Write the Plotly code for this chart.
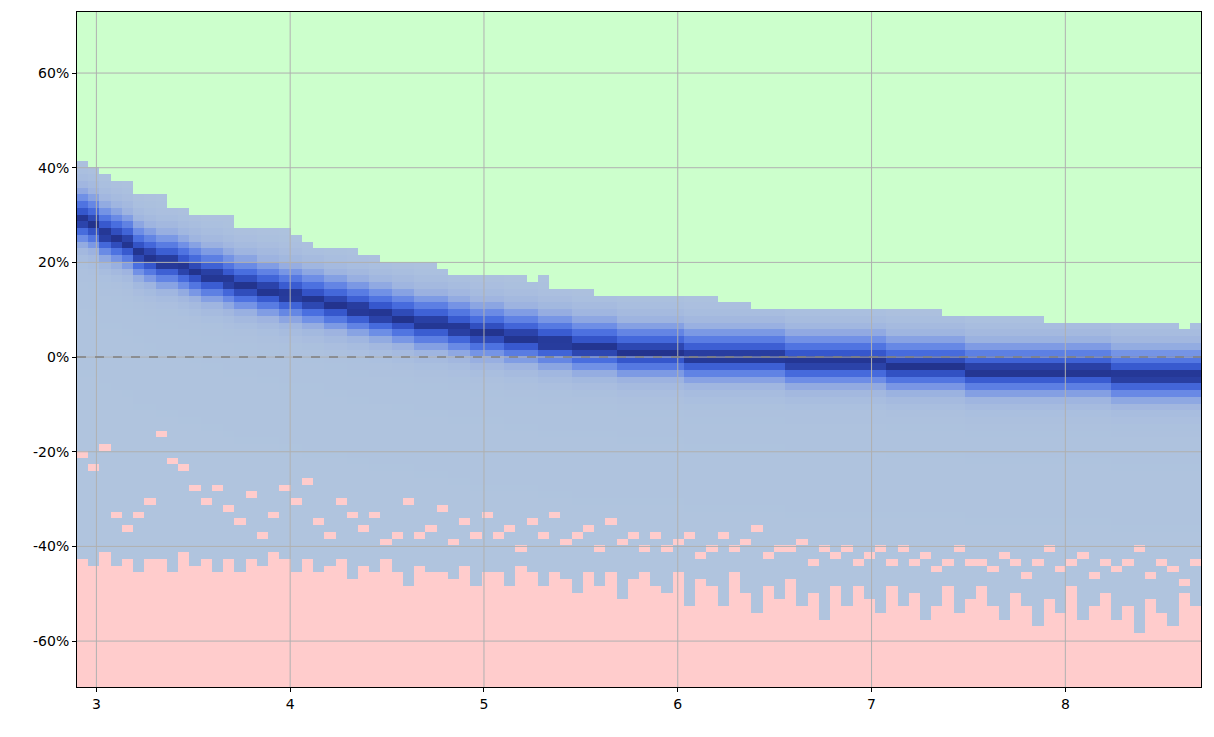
import numpy as np
import plotly.graph_objects as go

x_min, x_max = 2.90, 8.70
y_min, y_max = -69.7, 72.9
n_cols, n_rows = 100, 100

upper_edge = [41,40,38,37,37,34,34,33,31,31,
              30,30,29,29,27,27,27,26,26,25,
              24,23,23,23,22,21,21,20,20,19,
              19,19,18,17,17,17,16,16,16,16,
              15,16,14,14,14,14,13,13,13,13,
              13,12,12,13,12,12,12,11,11,11,
              10,10,10,10,10,10,10,9,10,9,
              9,9,9,9,9,9,9,8,8,8,
              8,8,8,8,8,8,7,7,7,6,
              6,6,6,6,6,6,6,6,5,6]
ridge = [29,28,26,25,24,22,21,20,20,19,
         18,17,17,16,15,15,14,14,13,13,
         12,12,11,11,10,10,9,9,8,8,
         7,7,7,6,6,5,5,5,4,4,
         4,3,3,3,2,2,2,2,1,1,
         1,1,1,1,0,0,0,0,0,0,
         0,0,0,-1,-1,-1,-1,-1,-1,-1,
         -1,-1,-2,-2,-2,-2,-2,-2,-2,-3,
         -3,-3,-3,-3,-3,-3,-3,-3,-3,-3,
         -3,-3,-4,-4,-4,-4,-4,-4,-4,-4]
pink_solid = [-42,-44,-41,-44,-42,-46,-43,-42,-45,-41,
              -44,-42,-46,-43,-45,-42,-44,-41,-43,-46,
              -43,-45,-44,-42,-47,-44,-46,-43,-45,-48,
              -44,-46,-45,-47,-44,-49,-46,-45,-48,-44,
              -46,-49,-45,-47,-50,-46,-48,-45,-51,-47,
              -45,-48,-50,-46,-53,-47,-49,-52,-46,-50,
              -54,-48,-51,-47,-53,-50,-55,-49,-52,-48,
              -51,-54,-49,-53,-50,-56,-52,-48,-54,-51,
              -49,-53,-55,-50,-52,-57,-51,-54,-49,-56,
              -53,-50,-55,-52,-58,-51,-54,-57,-50,-53]
pink_stray = [-20,-23,-19,-34,-36,-33,-31,-16,-22,-24,
              -28,-30,-27,-32,-35,-29,-37,-33,-28,-30,
              -26,-35,-38,-31,-34,-36,-33,-39,-37,-30,
              -38,-36,-32,-39,-35,-37,-34,-38,-36,-40,
              -35,-37,-34,-39,-38,-36,-40,-35,-39,-37,
              -40,-38,-41,-39,-37,-42,-40,-38,-41,-39,
              -36,-42,-40,-41,-39,-43,-40,-42,-41,-44,
              -42,-40,-43,-41,-44,-42,-45,-43,-41,-44,
              -43,-45,-42,-44,-46,-43,-41,-45,-44,-42,
              -46,-44,-45,-43,-40,-46,-44,-45,-47,-44]

x_ticks = [3, 4, 5, 6, 7, 8]
y_ticks = [-60, -40, -20, 0, 20, 40, 60]
y_labels = ["-60%", "-40%", "-20%", "0%", "20%", "40%", "60%"]

dx = (x_max - x_min) / n_cols
dy = (y_max - y_min) / n_rows
xc = x_min + dx * (np.arange(n_cols) + 0.5)
yc = y_min + dy * (np.arange(n_rows) + 0.5)

z = np.zeros((n_rows, n_cols))
for j in range(n_cols):
    for i, y in enumerate(yc):
        if y > upper_edge[j] + 0.7:
            z[i, j] = -2
        elif y < pink_solid[j] or abs(y - pink_stray[j]) < dy / 2:
            z[i, j] = -1
        else:
            d = y - ridge[j]
            w = 6.0 if d > 0 else 5.0
            v = 0.85 * np.exp(-(d / w) ** 2) + 0.12 * np.exp(-abs(d) / 12)
            z[i, j] = min(v, 1.0)

def p(v):
    return (v + 2) / 3

cs = [[0, "#ccffcc"], [0.33, "#ccffcc"], [0.333, "#ffcccc"], [0.666, "#ffcccc"],
      [p(0), "#b0c4de"], [p(0.3), "#9db3e0"], [p(0.55), "#6f8fe6"],
      [p(0.75), "#4a6fe0"], [p(0.88), "#3556cc"], [p(1.0), "#1c2778"]]

fig = go.Figure(go.Heatmap(x=xc, y=yc, z=z, colorscale=cs, zmin=-2, zmax=1,
                           showscale=False, hoverinfo="skip"))

shapes = []
for t in x_ticks:
    shapes.append(dict(type="line", x0=t, x1=t, y0=y_min, y1=y_max, xref="x", yref="y",
                       line=dict(color="#b0b0b0", width=1), layer="above"))
for t in y_ticks:
    shapes.append(dict(type="line", x0=x_min, x1=x_max, y0=t, y1=t, xref="x", yref="y",
                       line=dict(color="#b0b0b0", width=1), layer="above"))
shapes.append(dict(type="line", x0=x_min, x1=x_max, y0=0, y1=0, xref="x", yref="y",
                   line=dict(color="#808080", width=1.5, dash="dash"), layer="above"))

fig.update_layout(
    width=1214, height=737, margin=dict(l=69, r=21, t=4, b=58),
    paper_bgcolor="white", plot_bgcolor="white", shapes=shapes,
    font=dict(family="DejaVu Sans", size=14, color="black"),
    xaxis=dict(range=[x_min, x_max], tickvals=x_ticks, showgrid=False, zeroline=False,
               showline=True, linecolor="black", mirror=True, ticks="outside",
               ticklen=4, tickcolor="black"),
    yaxis=dict(range=[y_min, y_max], tickvals=y_ticks, ticktext=y_labels, showgrid=False,
               zeroline=False, showline=True, linecolor="black", mirror=True,
               ticks="outside", ticklen=4, tickcolor="black"),
)
fig.write_html("out.html")
